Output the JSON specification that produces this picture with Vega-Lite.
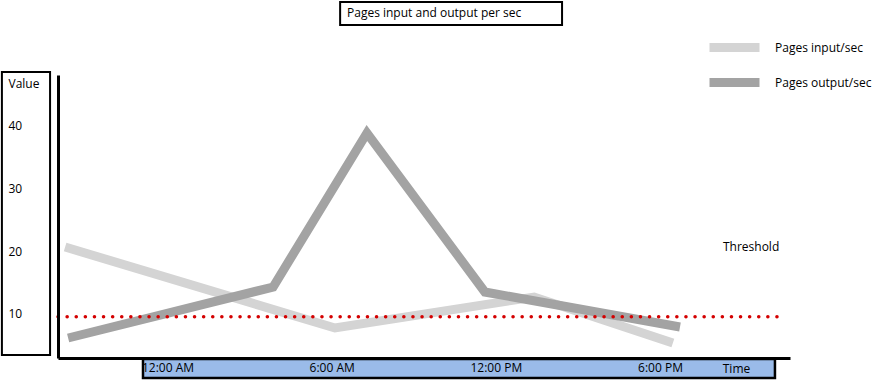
{
  "$schema": "https://vega.github.io/schema/vega-lite/v6.json",
  "width": 732,
  "height": 283,
  "autosize": {"type": "none"},
  "padding": {"left": 58, "top": 75, "right": 96, "bottom": 25},
  "background": "white",
  "title": {"text": "Pages input and output per sec", "anchor": "start", "frame": "group", "dx": 289, "fontSize": 12, "fontWeight": "normal", "font": "Open Sans", "color": "black", "baseline": "middle", "offset": -24, "zindex": 3},
  "config": {
    "view": {"stroke": null},
    "font": "Open Sans",
    "axis": {"labelFont": "Open Sans", "titleFont": "Open Sans", "labelFontSize": 12, "titleFontSize": 12, "labelColor": "black", "titleColor": "black", "titleFontWeight": "normal", "grid": false, "ticks": false, "tickSize": 0, "domainColor": "black", "domainWidth": 3},
    "legend": {"labelFont": "Open Sans", "labelFontSize": 12, "labelColor": "black"}
  },
  "datasets": {
    "series": [
      {"series": "Pages input/sec", "hour": -3.74, "value": 20.65},
      {"series": "Pages input/sec", "hour": 6.12, "value": 7.77},
      {"series": "Pages input/sec", "hour": 13.4, "value": 12.7},
      {"series": "Pages input/sec", "hour": 18.47, "value": 5.39},
      {"series": "Pages output/sec", "hour": -3.63, "value": 6.18},
      {"series": "Pages output/sec", "hour": 3.86, "value": 14.29},
      {"series": "Pages output/sec", "hour": 7.29, "value": 38.78},
      {"series": "Pages output/sec", "hour": 11.6, "value": 13.49},
      {"series": "Pages output/sec", "hour": 18.73, "value": 7.93}
    ],
    "one": [{}]
  },
  "layer": [
    {
      "data": {"name": "one"},
      "mark": {"type": "rect", "clip": false, "fill": null, "stroke": "black", "strokeWidth": 2},
      "encoding": {
        "x": {"datum": -6.05, "type": "quantitative"},
        "x2": {"datum": -4.29},
        "y": {"datum": 48.48, "type": "quantitative"},
        "y2": {"datum": 3.48}
      }
    },
    {
      "data": {"name": "one"},
      "mark": {"type": "rect", "clip": false, "fill": null, "stroke": "black", "strokeWidth": 2},
      "encoding": {
        "x": {"datum": 6.31, "type": "quantitative"},
        "x2": {"datum": 14.42},
        "y": {"datum": 59.61, "type": "quantitative"},
        "y2": {"datum": 55.95}
      }
    },
    {
      "data": {"name": "one"},
      "mark": {"type": "rect", "clip": false, "fill": "#9abbe9", "stroke": "black", "strokeWidth": 2.5},
      "encoding": {
        "x": {"datum": -0.894, "type": "quantitative"},
        "x2": {"datum": 22.2},
        "y": {"datum": 2.84, "type": "quantitative"},
        "y2": {"datum": -0.18}
      }
    },
    {
      "data": {"name": "series"},
      "mark": {"type": "line", "strokeWidth": 9, "strokeCap": "butt", "strokeJoin": "miter", "clip": false},
      "encoding": {
        "x": {
          "field": "hour", "type": "quantitative",
          "scale": {"domain": [-4, 22.75], "nice": false, "zero": false},
          "axis": {"zindex": 2, "values": [0, 6, 12, 18], "labelExpr": "datum.value == 0 ? '12:00 AM' : datum.value == 6 ? '6:00 AM' : datum.value == 12 ? '12:00 PM' : '6:00 PM'", "labelPadding": 4, "labelBaseline": "top", "title": "Time", "titleX": 678, "titleY": 10, "titleAlign": "center", "titleBaseline": "middle", "labelFlush": false}
        },
        "y": {
          "field": "value", "type": "quantitative",
          "scale": {"domain": [3, 48], "nice": false, "zero": false},
          "axis": {"zindex": 2, "values": [10, 20, 30, 40], "labelAlign": "left", "labelPadding": 50, "labelBaseline": "middle", "title": "Value", "titleAngle": 0, "titleX": -50, "titleY": 8, "titleAlign": "left", "titleBaseline": "middle", "labelFlush": false}
        },
        "color": {
          "field": "series", "type": "nominal",
          "scale": {"domain": ["Pages input/sec", "Pages output/sec"], "range": ["#d4d4d4", "#a3a3a3"]},
          "legend": {"title": null, "orient": "none", "legendX": 647, "legendY": -45, "symbolType": "stroke", "symbolSize": 2500, "symbolStrokeWidth": 9, "labelOffset": 11, "rowPadding": 0, "clipHeight": 35}
        }
      }
    },
    {
      "data": {"name": "one"},
      "mark": {"type": "rule", "color": "#d40000", "strokeWidth": 3.5, "strokeDash": [0.1, 9], "strokeCap": "round", "clip": false},
      "encoding": {
        "x": {"datum": -4, "type": "quantitative"},
        "x2": {"datum": 22.57},
        "y": {"datum": 9.57, "type": "quantitative"}
      }
    },
    {
      "data": {"name": "one"},
      "mark": {"type": "text", "align": "left", "baseline": "middle", "fontSize": 12, "font": "Open Sans", "color": "black", "clip": false},
      "encoding": {
        "x": {"datum": 20.3, "type": "quantitative"},
        "y": {"datum": 20.65, "type": "quantitative"},
        "text": {"value": "Threshold"}
      }
    }
  ]
}
